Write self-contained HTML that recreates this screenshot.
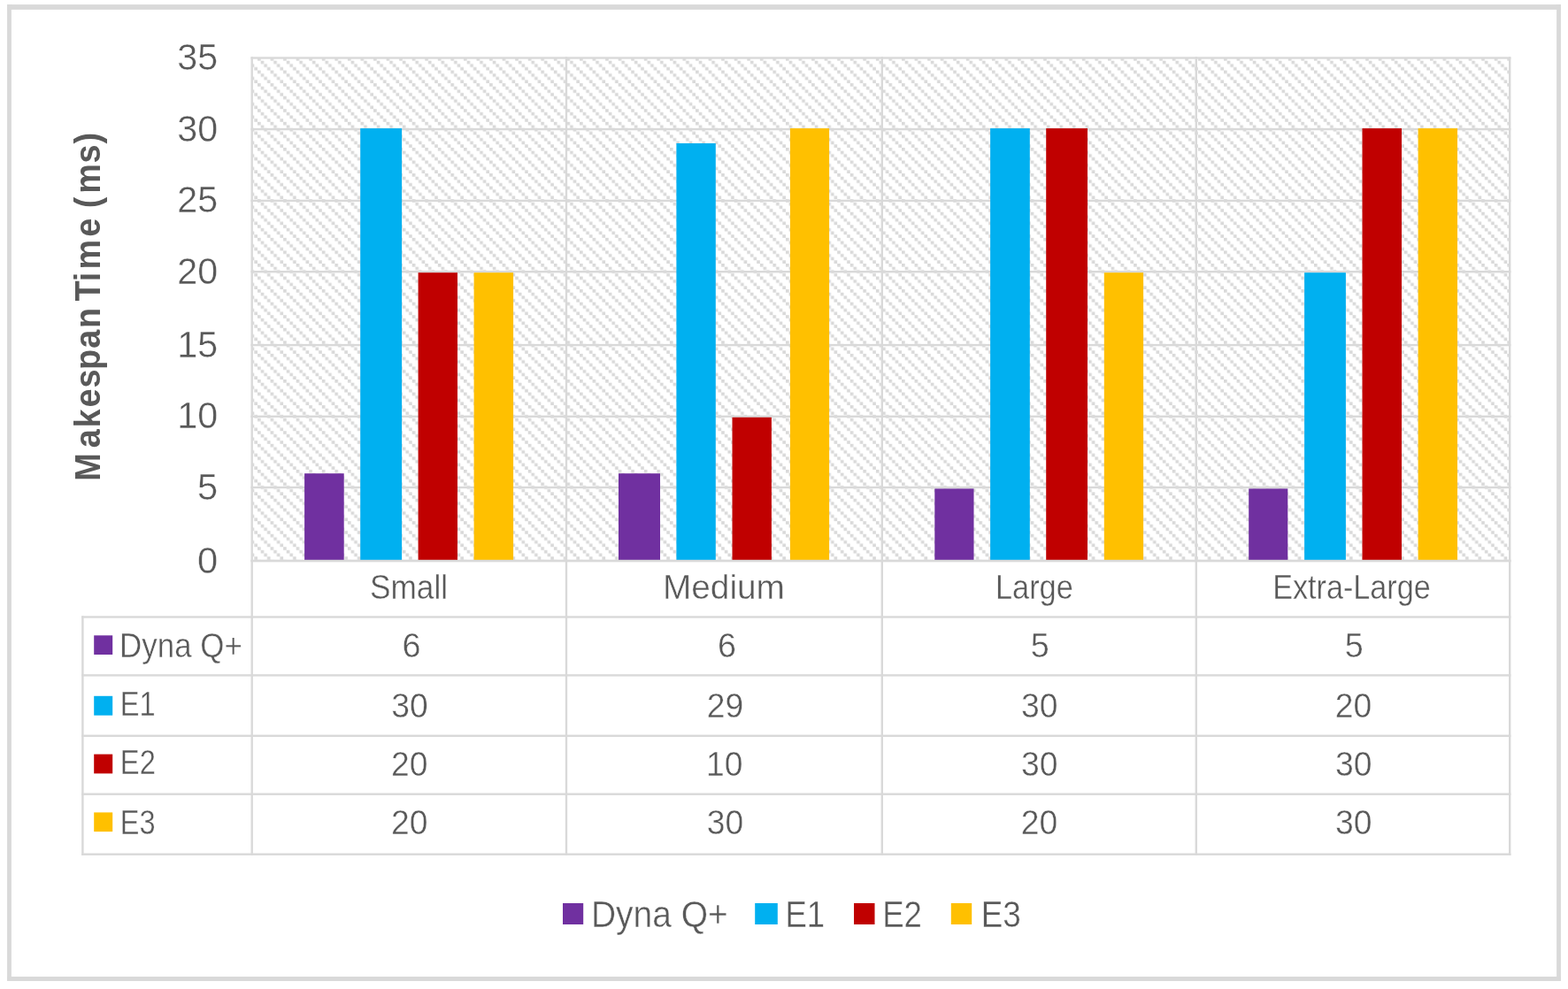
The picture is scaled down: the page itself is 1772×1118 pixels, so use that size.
<!DOCTYPE html>
<html lang="en">
<head>
<meta charset="utf-8">
<title>Makespan Time (ms)</title>
<style>
html,body{margin:0;padding:0;background:#fff;}
body{width:1772px;height:1118px;overflow:hidden;}
svg{display:block;}
text{font-family:"Liberation Sans",sans-serif;}
</style>
</head>
<body>
<svg width="1772" height="1118" viewBox="0 0 1772 1118" role="img" aria-label="Clustered column chart of makespan time in milliseconds for Dyna Q+, E1, E2 and E3 across four workload sizes, with data table">
<rect x="0" y="0" width="1772" height="1118" fill="#FFFFFF"/>
<g id="chart-frame">
<rect x="8.10" y="5.10" width="1755.80" height="5.80" fill="#D9D9D9"/>
<rect x="8.10" y="1104.00" width="1755.80" height="5.00" fill="#D9D9D9"/>
<rect x="8.10" y="5.10" width="4.80" height="1103.90" fill="#D9D9D9"/>
<rect x="1759.10" y="5.10" width="4.80" height="1103.90" fill="#D9D9D9"/>
</g>
<defs><pattern id="h" patternUnits="userSpaceOnUse" x="291.0" y="65.0" width="14.56" height="14.56"><rect x="0.000" y="0.000" width="3.640" height="3.640" fill="#D9D9D9"/><rect x="3.640" y="3.640" width="3.640" height="3.640" fill="#D9D9D9"/><rect x="7.280" y="7.280" width="3.640" height="3.640" fill="#D9D9D9"/><rect x="10.920" y="10.920" width="3.640" height="3.640" fill="#D9D9D9"/></pattern></defs>
<g id="plot-area">
<rect x="284.70" y="65.50" width="1421.50" height="568.50" fill="url(#h)"/>
<rect x="283.50" y="64.30" width="1423.90" height="2.40" fill="#D9D9D9"/>
<rect x="283.50" y="144.90" width="1423.90" height="2.40" fill="#D9D9D9"/>
<rect x="283.50" y="225.70" width="1423.90" height="2.40" fill="#D9D9D9"/>
<rect x="283.50" y="306.00" width="1423.90" height="2.40" fill="#D9D9D9"/>
<rect x="283.50" y="388.90" width="1423.90" height="2.40" fill="#D9D9D9"/>
<rect x="283.50" y="469.60" width="1423.90" height="2.40" fill="#D9D9D9"/>
<rect x="283.50" y="549.80" width="1423.90" height="2.40" fill="#D9D9D9"/>
<rect x="283.50" y="632.80" width="1423.90" height="2.40" fill="#D9D9D9"/>
<rect x="283.50" y="64.30" width="2.40" height="902.60" fill="#D9D9D9"/>
<rect x="638.80" y="64.30" width="2.40" height="902.60" fill="#D9D9D9"/>
<rect x="995.60" y="64.30" width="2.40" height="902.60" fill="#D9D9D9"/>
<rect x="1350.60" y="64.30" width="2.40" height="902.60" fill="#D9D9D9"/>
<rect x="1705.00" y="64.30" width="2.40" height="902.60" fill="#D9D9D9"/>
</g>
<g id="bars">
<rect x="344.10" y="535.20" width="44.60" height="98.00" fill="#7030A0"/>
<rect x="407.20" y="145.10" width="46.90" height="488.10" fill="#00B0F0"/>
<rect x="472.60" y="308.20" width="44.40" height="325.00" fill="#C00000"/>
<rect x="535.60" y="308.20" width="44.50" height="325.00" fill="#FFC000"/>
<rect x="699.00" y="535.20" width="47.00" height="98.00" fill="#7030A0"/>
<rect x="764.40" y="162.00" width="44.40" height="471.20" fill="#00B0F0"/>
<rect x="827.50" y="471.80" width="44.40" height="161.40" fill="#C00000"/>
<rect x="892.90" y="145.10" width="44.20" height="488.10" fill="#FFC000"/>
<rect x="1056.30" y="552.40" width="44.20" height="80.80" fill="#7030A0"/>
<rect x="1119.10" y="145.10" width="44.70" height="488.10" fill="#00B0F0"/>
<rect x="1182.20" y="145.10" width="46.80" height="488.10" fill="#C00000"/>
<rect x="1247.80" y="308.20" width="44.30" height="325.00" fill="#FFC000"/>
<rect x="1411.20" y="552.40" width="44.10" height="80.80" fill="#7030A0"/>
<rect x="1474.10" y="308.20" width="46.80" height="325.00" fill="#00B0F0"/>
<rect x="1539.50" y="145.10" width="44.50" height="488.10" fill="#C00000"/>
<rect x="1602.60" y="145.10" width="44.40" height="488.10" fill="#FFC000"/>
<rect x="283.50" y="632.80" width="1423.90" height="2.40" fill="#D9D9D9"/>
</g>
<g id="table-grid">
<rect x="92.20" y="696.30" width="1615.20" height="2.40" fill="#D9D9D9"/>
<rect x="92.20" y="762.20" width="1615.20" height="2.40" fill="#D9D9D9"/>
<rect x="92.20" y="830.60" width="1615.20" height="2.40" fill="#D9D9D9"/>
<rect x="92.20" y="896.50" width="1615.20" height="2.40" fill="#D9D9D9"/>
<rect x="92.20" y="964.50" width="1615.20" height="2.40" fill="#D9D9D9"/>
<rect x="92.20" y="696.30" width="2.40" height="270.60" fill="#D9D9D9"/>
</g>
<g id="value-axis">
<text transform="translate(200.35 79.00) scale(0.9640 1)" font-size="42.80" fill="#595959" stroke="#FFFFFF" stroke-width="0.4">35</text>
<text transform="translate(200.25 159.60) scale(0.9640 1)" font-size="42.80" fill="#595959" stroke="#FFFFFF" stroke-width="0.4">30</text>
<text transform="translate(200.35 240.40) scale(0.9641 1)" font-size="42.80" fill="#595959" stroke="#FFFFFF" stroke-width="0.4">25</text>
<text transform="translate(200.25 320.70) scale(0.9641 1)" font-size="42.80" fill="#595959" stroke="#FFFFFF" stroke-width="0.4">20</text>
<text transform="translate(200.34 403.60) scale(0.9643 1)" font-size="42.80" fill="#595959" stroke="#FFFFFF" stroke-width="0.4">15</text>
<text transform="translate(200.24 484.30) scale(0.9643 1)" font-size="42.80" fill="#595959" stroke="#FFFFFF" stroke-width="0.4">10</text>
<text transform="translate(223.02 564.50) scale(0.9746 1)" font-size="42.80" fill="#595959" stroke="#FFFFFF" stroke-width="0.4">5</text>
<text transform="translate(222.92 647.50) scale(0.9745 1)" font-size="42.80" fill="#595959" stroke="#FFFFFF" stroke-width="0.4">0</text>
<text transform="translate(113.1 544.8) rotate(-90) scale(0.9300 1)" x="1.23 41.60 65.83 90.70 114.29 136.38 162.46 186.84 209.68 219.79 243.49 258.50 298.02 319.78 332.97 350.65 387.52 411.14" y="0" font-size="40.70" font-weight="700" fill="#595959">Makespan Time (ms)</text>
</g>
<g id="category-labels">
<text transform="translate(418.01 676.80) scale(0.8986 1)" font-size="39.20" fill="#595959" stroke="#FFFFFF" stroke-width="0.4">Small</text>
<text transform="translate(748.90 676.80) scale(0.9905 1)" font-size="39.20" fill="#595959" stroke="#FFFFFF" stroke-width="0.4">Medium</text>
<text transform="translate(1124.97 676.80) scale(0.8757 1)" font-size="39.20" fill="#595959" stroke="#FFFFFF" stroke-width="0.4">Large</text>
<text transform="translate(1438.18 676.80) scale(0.8718 1)" font-size="39.20" fill="#595959" stroke="#FFFFFF" stroke-width="0.4">Extra-Large</text>
</g>
<g id="data-table">
<rect x="106.20" y="718.30" width="21.00" height="21.70" fill="#7030A0"/>
<text transform="translate(135.12 742.50) scale(0.8903 1)" font-size="39.20" fill="#595959" stroke="#FFFFFF" stroke-width="0.4">Dyna Q+</text>
<text transform="translate(454.48 743.20) scale(0.9636 1)" font-size="39.20" fill="#595959" stroke="#FFFFFF" stroke-width="0.4">6</text>
<text transform="translate(811.08 743.20) scale(0.9636 1)" font-size="39.20" fill="#595959" stroke="#FFFFFF" stroke-width="0.4">6</text>
<text transform="translate(1164.72 743.20) scale(0.9630 1)" font-size="39.20" fill="#595959" stroke="#FFFFFF" stroke-width="0.4">5</text>
<text transform="translate(1519.72 743.20) scale(0.9630 1)" font-size="39.20" fill="#595959" stroke="#FFFFFF" stroke-width="0.4">5</text>
<rect x="106.20" y="786.80" width="21.00" height="21.90" fill="#00B0F0"/>
<text transform="translate(135.80 808.90) scale(0.8336 1)" font-size="39.20" fill="#595959" stroke="#FFFFFF" stroke-width="0.4">E1</text>
<text transform="translate(442.20 811.10) scale(0.9514 1)" font-size="39.20" fill="#595959" stroke="#FFFFFF" stroke-width="0.4">30</text>
<text transform="translate(798.70 811.10) scale(0.9516 1)" font-size="39.20" fill="#595959" stroke="#FFFFFF" stroke-width="0.4">29</text>
<text transform="translate(1153.90 811.10) scale(0.9514 1)" font-size="39.20" fill="#595959" stroke="#FFFFFF" stroke-width="0.4">30</text>
<text transform="translate(1508.67 811.10) scale(0.9515 1)" font-size="39.20" fill="#595959" stroke="#FFFFFF" stroke-width="0.4">20</text>
<rect x="106.20" y="852.60" width="21.00" height="21.80" fill="#C00000"/>
<text transform="translate(135.80 874.80) scale(0.8355 1)" font-size="39.20" fill="#595959" stroke="#FFFFFF" stroke-width="0.4">E2</text>
<text transform="translate(441.97 877.40) scale(0.9515 1)" font-size="39.20" fill="#595959" stroke="#FFFFFF" stroke-width="0.4">20</text>
<text transform="translate(798.09 877.40) scale(0.9518 1)" font-size="39.20" fill="#595959" stroke="#FFFFFF" stroke-width="0.4">10</text>
<text transform="translate(1153.90 877.40) scale(0.9514 1)" font-size="39.20" fill="#595959" stroke="#FFFFFF" stroke-width="0.4">30</text>
<text transform="translate(1508.90 877.40) scale(0.9514 1)" font-size="39.20" fill="#595959" stroke="#FFFFFF" stroke-width="0.4">30</text>
<rect x="106.20" y="918.40" width="21.00" height="21.70" fill="#FFC000"/>
<text transform="translate(135.82 943.30) scale(0.8298 1)" font-size="39.20" fill="#595959" stroke="#FFFFFF" stroke-width="0.4">E3</text>
<text transform="translate(441.97 943.40) scale(0.9515 1)" font-size="39.20" fill="#595959" stroke="#FFFFFF" stroke-width="0.4">20</text>
<text transform="translate(798.80 943.40) scale(0.9514 1)" font-size="39.20" fill="#595959" stroke="#FFFFFF" stroke-width="0.4">30</text>
<text transform="translate(1153.67 943.40) scale(0.9515 1)" font-size="39.20" fill="#595959" stroke="#FFFFFF" stroke-width="0.4">20</text>
<text transform="translate(1508.90 943.40) scale(0.9514 1)" font-size="39.20" fill="#595959" stroke="#FFFFFF" stroke-width="0.4">30</text>
</g>
<g id="legend">
<rect x="636.00" y="1021.00" width="23.20" height="24.00" fill="#7030A0"/>
<text transform="translate(667.99 1047.80) scale(0.9103 1)" font-size="42.80" fill="#595959" stroke="#FFFFFF" stroke-width="0.4">Dyna Q+</text>
<rect x="853.20" y="1021.00" width="25.60" height="24.00" fill="#00B0F0"/>
<text transform="translate(887.49 1047.80) scale(0.8533 1)" font-size="42.80" fill="#595959" stroke="#FFFFFF" stroke-width="0.4">E1</text>
<rect x="965.00" y="1021.00" width="23.50" height="24.00" fill="#C00000"/>
<text transform="translate(997.18 1047.80) scale(0.8553 1)" font-size="42.80" fill="#595959" stroke="#FFFFFF" stroke-width="0.4">E2</text>
<rect x="1074.80" y="1021.00" width="23.40" height="24.00" fill="#FFC000"/>
<text transform="translate(1108.76 1047.80) scale(0.8622 1)" font-size="42.80" fill="#595959" stroke="#FFFFFF" stroke-width="0.4">E3</text>
</g>
</svg>
</body>
</html>
